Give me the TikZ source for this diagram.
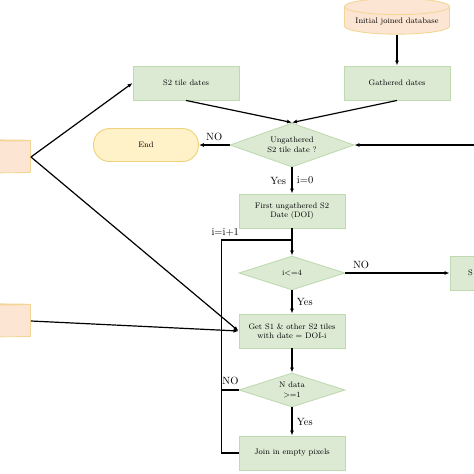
\documentclass[tikz,border=0pt]{standalone}
\usepackage{amsmath,amssymb}
\usepackage{xcolor}
\usetikzlibrary{shapes.geometric, positioning, calc, arrows.meta}

\definecolor{boxfill}{HTML}{DCEAD4}
\definecolor{boxline}{HTML}{BFDAB0}
\definecolor{dbfill}{HTML}{FCE5D3}
\definecolor{dbline}{HTML}{F3D696}
\definecolor{endfill}{HTML}{FFF1C8}
\definecolor{endline}{HTML}{EFD27C}

\begin{document}
\begin{tikzpicture}[x=1pt, y=-1pt,
        procbox/.style={rectangle, draw=boxline, fill=boxfill, line width=0.9pt,
            minimum width=106pt, minimum height=34pt, align=center,
            font=\fontsize{8}{9.5}\selectfont},
        decide/.style={diamond, aspect=2.8, draw=boxline, fill=boxfill, line width=0.9pt,
            inner sep=0pt, align=center, font=\fontsize{8}{9.5}\selectfont},
        database/.style={cylinder, shape border rotate=90, aspect=0.18,
            draw=dbline, fill=dbfill, line width=0.9pt, minimum width=105pt,
            minimum height=33pt, font=\fontsize{8}{9.5}\selectfont},
        terminal/.style={rectangle, rounded corners=16pt, draw=endline, fill=endfill,
            line width=0.9pt, minimum width=105pt, minimum height=33pt,
            font=\fontsize{8}{9.5}\selectfont},
        flow/.style={-{Latex[length=5pt,width=4pt]}, line width=1.2pt},
        tag/.style={font=\fontsize{10.5}{12}\selectfont}]

        \clip (0,0) rectangle (474,474);
        \useasboundingbox (0,0) rectangle (474,474);

        % 1. Data sources
        \node[database] (initdb) at (397,22) {Initial joined database};
        \node[database] (leftdb) at (-22,157) {};
        \node[database] (lowdb) at (-22,321) {};

        % 2. Date lists and end
        \node[procbox] (tiledates) at (186,83) {S2 tile dates};
        \node[procbox] (gathered) at (397,83) {Gathered dates};
        \node[decide, minimum width=124pt, minimum height=44pt] (ungath) at (292,145) {Ungathered\\S2 tile date ?};
        \node[terminal] (finish) at (146,145) {End};

        % 3. Main loop
        \node[procbox] (firstdate) at (292,211) {First ungathered S2\\Date (DOI)};
        \node[decide, minimum width=106pt, minimum height=34pt] (icheck) at (292,273) {i$<$=4};
        \node[procbox, text width=70pt, align=left] (savebox) at (503,273) {S};
        \node[procbox] (gettiles) at (292,331) {Get S1 \& other S2 tiles\\with date = DOI-i};
        \node[decide, minimum width=106pt, minimum height=34pt] (ndata) at (292,390) {N data\\$>$=1};
        \node[procbox] (joinpix) at (292,453) {Join in empty pixels};

        \coordinate (rightin) at (480,145);
        \coordinate (merge) at (292,240);

        % 4. Connectors
        \draw[flow] (initdb.south) -- (gathered.north);
        \draw[flow] (tiledates.south) -- (ungath.north);
        \draw[flow] (gathered.south) -- (ungath.north);
        \draw[flow] (rightin) -- (ungath.east);
        \draw[flow] (ungath.west) -- (finish.east) node[tag, midway, above] {NO};
        \draw[flow] (leftdb.east) -- (tiledates.west);
        \draw[flow] (leftdb.east) -- (gettiles.west);
        \draw[flow] (lowdb.east) -- (gettiles.west);
        \draw[flow] (ungath.south) -- (firstdate.north)
            node[tag, midway, left=2pt] {Yes} node[tag, midway, right=1pt] {i=0};
        \draw[flow] (firstdate.south) -- (icheck.north);
        \draw[flow] (icheck.east) -- (savebox.west) node[tag, pos=0.15, above] {NO};
        \draw[flow] (icheck.south) -- (gettiles.north) node[tag, midway, right=1pt] {Yes};
        \draw[flow] (gettiles.south) -- (ndata.north);
        \draw[flow] (ndata.south) -- (joinpix.north) node[tag, midway, right=1pt] {Yes};

        % 5. Back loop (i=i+1)
        \draw[line width=1.2pt] (joinpix.west) -- ++(-17,0) |- (merge);
        \node[tag, above right=0pt and -14pt] (incr) at (222,240) {i=i+1};
        \draw[line width=1.2pt] (ndata.west) -- ++(-18,0)
            node[tag, pos=0.45, above=1pt] {NO};

\end{tikzpicture}
\end{document}
